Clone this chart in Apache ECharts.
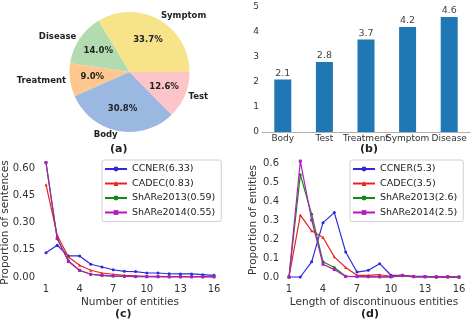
<!DOCTYPE html>
<html>
<head>
<meta charset="utf-8">
<script src="https://cdn.jsdelivr.net/npm/echarts@6/dist/echarts.min.js"></script>
<style>
  html, body { margin: 0; padding: 0; background: #fff; }
  #chart { width: 474px; height: 321px; }
</style>
</head>
<body>
<div id="chart"></div>
<script>
// (a) entity type shares
const pieNames = ['Symptom', 'Disease', 'Treatment', 'Body', 'Test'];
const pieShares = [33.7, 14.0, 9.0, 30.8, 12.6];
const pieColors = ['#f7e38a', '#b2dcb0', '#fdc78f', '#9bb9e0', '#fcc5ca'];

// (b) average entity length per type
const barCats = ['Body', 'Test', 'Treatment', 'Symptom', 'Disease'];
const barVals = [2.1, 2.8, 3.7, 4.2, 4.6];

// (c) number of entities per sentence
const entityCounts = ['1','2','3','4','5','6','7','8','9','10','11','12','13','14','15','16'];
const sentCCNER = [0.133, 0.175, 0.116, 0.116, 0.070, 0.055, 0.040, 0.031, 0.030, 0.022, 0.022, 0.018, 0.017, 0.017, 0.013, 0.009];
const sentCADEC = [0.508, 0.230, 0.110, 0.065, 0.037, 0.022, 0.015, 0.009, 0.006, 0.004, 0.003, 0.002, 0.002, 0.002, 0.002, 0.002];
const sentShARe13 = [0.630, 0.210, 0.090, 0.036, 0.015, 0.008, 0.005, 0.003, 0.002, 0.002, 0.002, 0.002, 0.002, 0.002, 0.002, 0.002];
const sentShARe14 = [0.630, 0.212, 0.085, 0.037, 0.015, 0.010, 0.006, 0.004, 0.003, 0.002, 0.002, 0.002, 0.002, 0.002, 0.002, 0.002];

// (d) length of discontinuous entities
const entityLengths = ['1','2','3','4','5','6','7','8','9','10','11','12','13','14','15','16'];
const lenCCNER = [0, 0, 0.080, 0.286, 0.339, 0.132, 0.026, 0.035, 0.070, 0.009, 0.009, 0.004, 0.003, 0.001, 0.001, 0];
const lenCADEC = [0, 0.326, 0.243, 0.208, 0.106, 0.050, 0.009, 0.009, 0.012, 0.004, 0.010, 0.002, 0.001, 0, 0, 0];
const lenShARe13 = [0, 0.538, 0.330, 0.080, 0.050, 0.004, 0.002, 0.001, 0.001, 0.001, 0.006, 0.001, 0.001, 0, 0.001, 0];
const lenShARe14 = [0, 0.610, 0.300, 0.067, 0.039, 0.003, 0.002, 0.002, 0.001, 0.001, 0.008, 0.002, 0.002, 0.001, 0.002, 0];

const sentNames = ['CCNER(6.33)', 'CADEC(0.83)', 'ShARe2013(0.59)', 'ShARe2014(0.55)'];
const lenNames = ['CCNER(5.3)', 'CADEC(3.5)', 'ShARe2013(2.6)', 'ShARe2014(2.5)'];
const lineColors = ['#2a2ae0', '#e82222', '#138a13', '#b01cc0'];
const lineSymbols = ['circle', 'triangle', 'circle', 'rect'];

const FONT = 'DejaVu Sans';
const chart = echarts.init(document.getElementById('chart'), null, { renderer: 'canvas' });

function lineSeries(names, datas, xi, yi) {
  return datas.map((d, i) => ({
    type: 'line',
    name: names[i],
    xAxisIndex: xi,
    yAxisIndex: yi,
    data: d,
    clip: false,
    color: lineColors[i],
    symbol: lineSymbols[i],
    symbolSize: 3,
    showSymbol: true,
    lineStyle: { width: 1.2 },
    itemStyle: { color: lineColors[i] },
    emphasis: { disabled: true },
    z: 3 + i
  }));
}

function legendFor(names, left, top) {
  return {
    data: names,
    orient: 'vertical',
    left: left,
    top: top,
    itemWidth: 22,
    itemHeight: 6,
    itemGap: 4.5,
    padding: [4, 6, 4, 2],
    borderColor: '#d0d0d0',
    borderWidth: 1,
    borderRadius: 2,
    backgroundColor: '#fff',
    textStyle: { fontFamily: FONT, fontSize: 9.5, color: '#222', padding: [0, 0, 0, 0] }
  };
}

const axisText = { fontFamily: FONT, fontSize: 10, color: '#333' };

const option = {
  animation: false,
  backgroundColor: '#fff',
  textStyle: { fontFamily: FONT },
  legend: [
    legendFor(sentNames, 102, 160),
    legendFor(lenNames, 350, 160)
  ],
  grid: [
    { left: 262, right: 4, top: 7, bottom: 189, outerBoundsMode: 'none', containLabel: false },
    { left: 46, right: 260, top: 168, bottom: 44, outerBoundsMode: 'none', containLabel: false },
    { left: 289, right: 15, top: 163, bottom: 44, outerBoundsMode: 'none', containLabel: false }
  ],
  xAxis: [
    {
      type: 'category', gridIndex: 0, data: barCats,
      axisLine: { lineStyle: { color: '#b0b0b0' } },
      axisTick: { show: false },
      axisLabel: { fontFamily: FONT, fontSize: 9, color: '#333', margin: 2, interval: 0 }
    },
    {
      type: 'category', gridIndex: 1, data: entityCounts, boundaryGap: false,
      axisLine: { show: false }, axisTick: { show: false },
      axisLabel: Object.assign({ interval: 2, margin: 7 }, axisText),
      name: 'Number of entities', nameLocation: 'middle', nameGap: 20, nameMoveOverlap: false,
      nameTextStyle: { fontFamily: FONT, fontSize: 10.5, color: '#333', verticalAlign: 'top' }
    },
    {
      type: 'category', gridIndex: 2, data: entityLengths, boundaryGap: false,
      axisLine: { show: false }, axisTick: { show: false },
      axisLabel: Object.assign({ interval: 2, margin: 7 }, axisText),
      name: 'Length of discontinuous entities', nameLocation: 'middle', nameGap: 20, nameMoveOverlap: false,
      nameTextStyle: { fontFamily: FONT, fontSize: 10.5, color: '#333', verticalAlign: 'top' }
    }
  ],
  yAxis: [
    {
      type: 'value', gridIndex: 0, min: 0, max: 5, interval: 1,
      axisLine: { show: false }, axisTick: { show: false }, splitLine: { show: false },
      axisLabel: { fontFamily: FONT, fontSize: 9, color: '#333', margin: 3 }
    },
    {
      type: 'value', gridIndex: 1, min: 0, max: 0.6, interval: 0.15,
      axisLine: { show: false }, axisTick: { show: false }, splitLine: { show: false },
      axisLabel: Object.assign({ margin: 11, formatter: v => v.toFixed(2) }, axisText),
      name: 'Proportion of sentences', nameLocation: 'middle', nameGap: 35, nameMoveOverlap: false,
      nameTextStyle: { fontFamily: FONT, fontSize: 10.5, color: '#333' }
    },
    {
      type: 'value', gridIndex: 2, min: 0, max: 0.6, interval: 0.1,
      axisLine: { show: false }, axisTick: { show: false }, splitLine: { show: false },
      axisLabel: Object.assign({ margin: 10, formatter: v => v.toFixed(1) }, axisText),
      name: 'Proportion of entities', nameLocation: 'middle', nameGap: 30, nameMoveOverlap: false,
      nameTextStyle: { fontFamily: FONT, fontSize: 10.5, color: '#333' }
    }
  ],
  series: [
    // (a) wedges with outer name labels
    {
      type: 'pie',
      center: [129.5, 72],
      radius: [0, 60],
      startAngle: 0,
      clockwise: false,
      silent: true,
      avoidLabelOverlap: false,
      data: pieNames.map((n, i) => ({ name: n, value: pieShares[i], itemStyle: { color: pieColors[i] } })),
      label: {
        show: true, position: 'outside', formatter: '{b}',
        overflow: 'none', bleedMargin: 0, distanceToLabelLine: 0,
        fontFamily: FONT, fontSize: 8.5, fontWeight: 'bold', color: '#222'
      },
      labelLine: { show: false, length: 4, length2: 0 },
      emphasis: { disabled: true }
    },
    // (a) percentage labels placed at about 0.58 of the wedge radius
    {
      type: 'pie',
      center: [129.5, 72],
      radius: [0, 69],
      startAngle: 0,
      clockwise: false,
      silent: true,
      data: pieNames.map((n, i) => ({ name: n, value: pieShares[i] })),
      itemStyle: { color: 'rgba(0,0,0,0)' },
      label: {
        show: true, position: 'inside',
        formatter: p => p.value.toFixed(1) + '%',
        fontFamily: FONT, fontSize: 8.5, fontWeight: 'bold', color: '#222'
      },
      emphasis: { disabled: true },
      z: 5
    },
    // (b) bars
    {
      type: 'bar',
      xAxisIndex: 0, yAxisIndex: 0,
      data: barVals,
      barWidth: 17,
      itemStyle: { color: '#1f77b4' },
      label: {
        show: true, position: 'top', distance: 1,
        formatter: p => p.value.toFixed(1),
        fontFamily: FONT, fontSize: 9.5, color: '#444'
      },
      emphasis: { disabled: true }
    }
  ]
    .concat(lineSeries(sentNames, [sentCCNER, sentCADEC, sentShARe13, sentShARe14], 1, 1))
    .concat(lineSeries(lenNames, [lenCCNER, lenCADEC, lenShARe13, lenShARe14], 2, 2)),
  graphic: [
    { type: 'text', left: 110, top: 144, style: { text: '(a)', font: 'bold 11px "DejaVu Sans"', fill: '#222' } },
    { type: 'text', left: 360, top: 144, style: { text: '(b)', font: 'bold 11px "DejaVu Sans"', fill: '#222' } },
    { type: 'text', left: 115, top: 309, style: { text: '(c)', font: 'bold 11px "DejaVu Sans"', fill: '#222' } },
    { type: 'text', left: 361, top: 309, style: { text: '(d)', font: 'bold 11px "DejaVu Sans"', fill: '#222' } }
  ]
};

chart.setOption(option);
</script>
</body>
</html>
